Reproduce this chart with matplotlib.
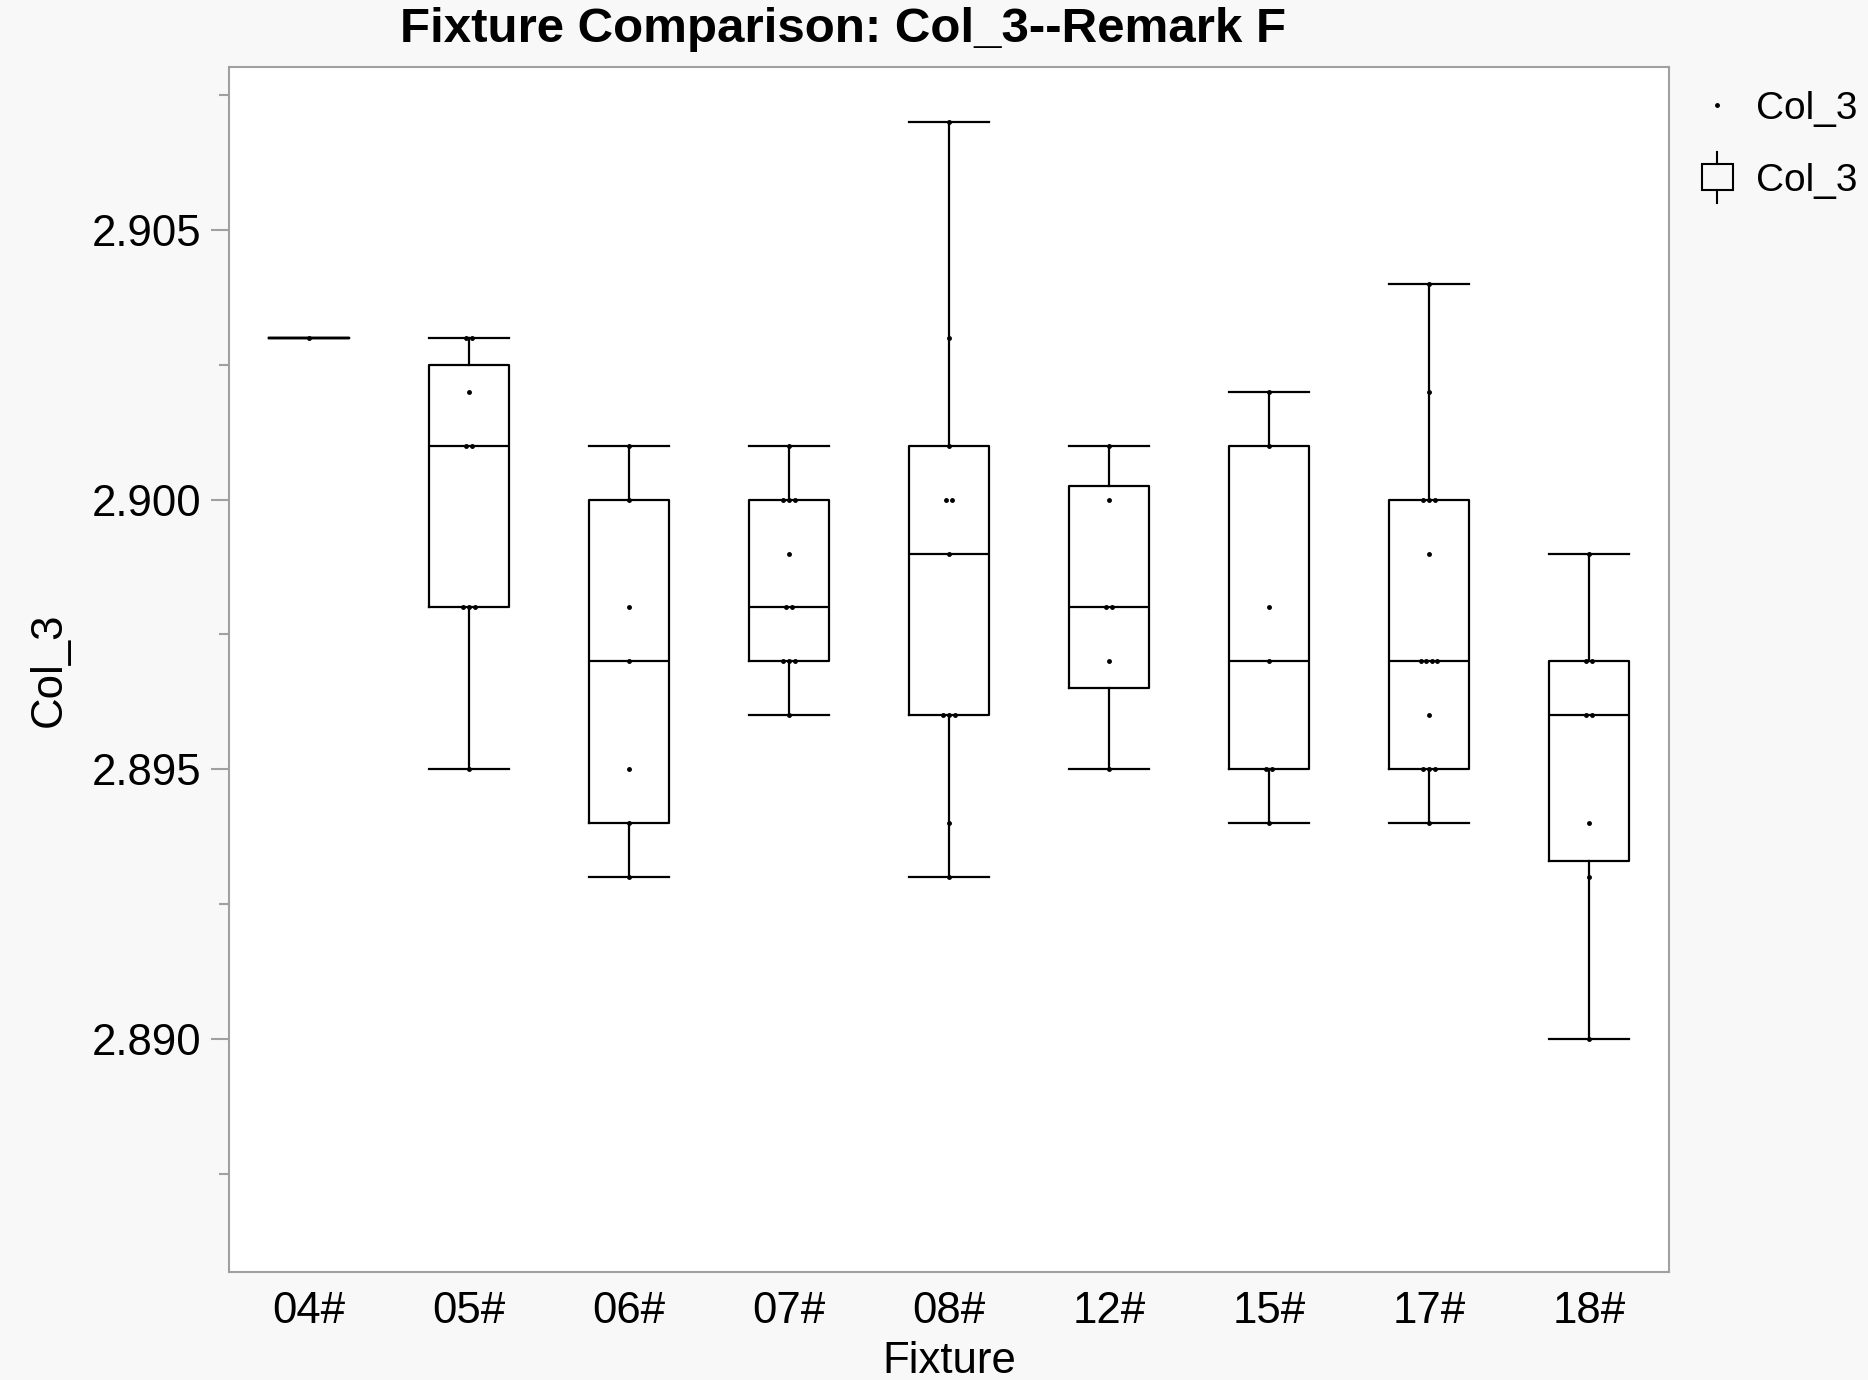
import matplotlib
matplotlib.use('Agg')
import matplotlib.pyplot as plt
import numpy as np
from matplotlib.lines import Line2D
from matplotlib.patches import Rectangle
from matplotlib.legend_handler import HandlerBase
from matplotlib.ticker import MultipleLocator

plt.rcParams['font.family'] = ['Liberation Sans', 'DejaVu Sans']

fixtures = ['04#', '05#', '06#', '07#', '08#', '12#', '15#', '17#', '18#']

# box summary (JMP quantiles)
whis_lo = [2.903, 2.895, 2.893, 2.896, 2.893, 2.895, 2.894, 2.894, 2.890]
q1 = [2.903, 2.898, 2.894, 2.897, 2.896, 2.8965, 2.895, 2.895, 2.8933]
median = [2.903, 2.901, 2.897, 2.898, 2.899, 2.898, 2.897, 2.897, 2.896]
q3 = [2.903, 2.9025, 2.900, 2.900, 2.901, 2.90025, 2.901, 2.900, 2.897]
whis_hi = [2.903, 2.903, 2.901, 2.901, 2.907, 2.901, 2.902, 2.904, 2.899]

# individual measurements per fixture
points = [
    [2.903],
    [2.903, 2.903, 2.902, 2.901, 2.901, 2.898, 2.898, 2.898, 2.895],
    [2.901, 2.900, 2.898, 2.897, 2.895, 2.894, 2.893],
    [2.901, 2.900, 2.900, 2.900, 2.899, 2.898, 2.898, 2.897, 2.897, 2.897, 2.896],
    [2.907, 2.903, 2.901, 2.900, 2.900, 2.899, 2.896, 2.896, 2.896, 2.894, 2.893],
    [2.901, 2.900, 2.898, 2.898, 2.897, 2.895],
    [2.902, 2.901, 2.898, 2.897, 2.895, 2.895, 2.894],
    [2.904, 2.902, 2.900, 2.900, 2.900, 2.899, 2.897, 2.897, 2.897, 2.897,
     2.896, 2.895, 2.895, 2.895, 2.894],
    [2.899, 2.897, 2.897, 2.896, 2.896, 2.894, 2.893, 2.890],
]

y_ticks = [2.890, 2.895, 2.900, 2.905]


# legend glyph: small box with whisker (units are points)
class BoxHandler(HandlerBase):
    def create_artists(self, legend, orig_handle, xdescent, ydescent,
                       width, height, fontsize, trans):
        cx = width / 2 - xdescent
        cy = height / 2 - ydescent
        bw, bh, wl = 22, 18.5, 9
        box = Rectangle((cx - bw / 2, cy - bh / 2), bw, bh, fill=False,
                        ec='black', lw=1.5, transform=trans)
        top = Line2D([cx, cx], [cy + bh / 2, cy + bh / 2 + wl], color='black', lw=1.5, transform=trans)
        bot = Line2D([cx, cx], [cy - bh / 2, cy - bh / 2 - wl], color='black', lw=1.5, transform=trans)
        return [box, top, bot]


fig = plt.figure(figsize=(18.68, 13.80), dpi=100, facecolor='#f8f8f8')
ax = fig.add_axes([229 / 1868, 1 - 1272 / 1380, 1440 / 1868, 1205 / 1380])
ax.set_facecolor('white')

stats = []
for i, name in enumerate(fixtures):
    stats.append({'whislo': whis_lo[i], 'q1': q1[i], 'med': median[i],
                  'q3': q3[i], 'whishi': whis_hi[i], 'fliers': [], 'label': name})

line_kw = dict(color='black', linewidth=1.6)
ax.bxp(stats, positions=range(len(fixtures)), widths=0.5, showfliers=False,
       boxprops=line_kw, whiskerprops=line_kw, capprops=line_kw,
       medianprops=line_kw, capwidths=0.5)

# points, spreading duplicates a little sideways
for i, vals in enumerate(points):
    vals = np.array(vals)
    xs = np.zeros(len(vals)) + i
    for v in np.unique(vals):
        idx = np.where(vals == v)[0]
        m = len(idx)
        xs[idx] = i + (np.arange(m) - (m - 1) / 2) * 0.035
    ax.plot(xs, vals, linestyle='none', marker='o', markersize=2.5,
            color='black', zorder=5)

ax.set_xlim(-0.5, len(fixtures) - 0.5)
ax.set_ylim(2.88568, 2.90802)
ax.set_xticks(range(len(fixtures)))
ax.set_xticklabels(fixtures)
ax.set_yticks(y_ticks)
ax.set_yticklabels([f'{v:.3f}' for v in y_ticks])
ax.yaxis.set_minor_locator(MultipleLocator(0.0025))

for s in ax.spines.values():
    s.set_color('#a0a0a0')
    s.set_linewidth(1.5)
ax.tick_params(axis='y', which='major', length=13, width=1.5, color='#a0a0a0',
               labelsize=31.5, pad=7)
ax.tick_params(axis='y', which='minor', length=7.5, width=1.5, color='#a0a0a0')
ax.tick_params(axis='x', length=0, labelsize=31.5, pad=14)

ax.set_xlabel('Fixture', fontsize=31.5, labelpad=6)
ax.set_ylabel('Col_3', fontsize=31.5, labelpad=16)

fig.text(843 / 1868, 1 - 29 / 1380, 'Fixture Comparison: Col_3--Remark F',
         ha='center', va='center', fontsize=35.5, fontweight='bold')

handles = [Line2D([0], [0], linestyle='none', marker='o', markersize=2.5, color='black'),
           object()]
ax.legend(handles, ['Col_3', 'Col_3'], handler_map={object: BoxHandler()},
          loc='upper left', bbox_to_anchor=(1698 / 1868, 1 - 91 / 1380),
          bbox_transform=fig.transFigure, frameon=False, fontsize=28,
          handlelength=1.0, handletextpad=0.5, labelspacing=0.92,
          borderaxespad=0, borderpad=0)

fig.savefig('out.png', dpi=100, facecolor=fig.get_facecolor())
